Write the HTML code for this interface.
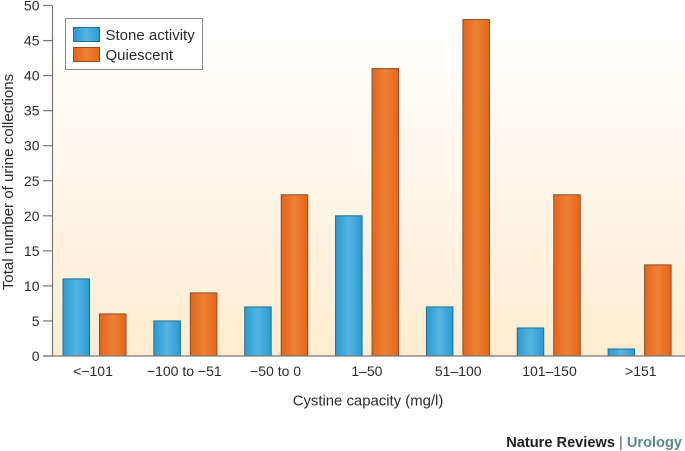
<!DOCTYPE html>
<html lang="en">
<head>
<meta charset="utf-8">
<title>Cystine capacity chart</title>
<style>
html,body{margin:0;padding:0;background:#fff;}
svg{display:block;font-family:"Liberation Sans",sans-serif;}
</style>
</head>
<body>
<svg id="chart" width="685" height="451" viewBox="0 0 685 451" xmlns="http://www.w3.org/2000/svg">
<defs>
<linearGradient id="bg" x1="0" y1="0" x2="0" y2="1">
<stop offset="0" stop-color="#ffffff"/>
<stop offset="0.06" stop-color="#ffffff"/>
<stop offset="1" stop-color="#fdecd0"/>
</linearGradient>
<linearGradient id="blue" x1="0" y1="0" x2="1" y2="0">
<stop offset="0" stop-color="#2a9ad2"/>
<stop offset="0.5" stop-color="#56b4e0"/>
<stop offset="1" stop-color="#2a9ad2"/>
</linearGradient>
<linearGradient id="orange" x1="0" y1="0" x2="1" y2="0">
<stop offset="0" stop-color="#e4651a"/>
<stop offset="0.5" stop-color="#ec8136"/>
<stop offset="1" stop-color="#e4651a"/>
</linearGradient>
</defs>
<rect x="53" y="6" width="632" height="350" fill="url(#bg)"/>
<g id="bars"></g>
<g id="axes"></g>
<g>
<rect x="65.5" y="18.5" width="137" height="51" fill="#fff" stroke="#8a8a8a" stroke-width="1"/>
<rect x="73.5" y="27.5" width="26" height="14" fill="url(#blue)" stroke="#1f6f93" stroke-width="1"/>
<text x="105.5" y="40" font-size="15" fill="#2b2b2b">Stone activity</text>
<rect x="73.5" y="47.5" width="26" height="14" fill="url(#orange)" stroke="#8f4d22" stroke-width="1"/>
<text x="105.5" y="60" font-size="15" fill="#2b2b2b">Quiescent</text>
</g>
<text x="368" y="405.5" font-size="14.9" text-anchor="middle" fill="#2b2b2b">Cystine capacity (mg/l)</text>
<text transform="translate(13,182) rotate(-90)" font-size="15.1" text-anchor="middle" fill="#2b2b2b">Total number of urine collections</text>
<text x="682" y="447" font-size="14.6" text-anchor="end" font-weight="bold" fill="#222">Nature Reviews <tspan font-weight="normal" fill="#555">|</tspan> <tspan fill="#5b8a8c">Urology</tspan></text>
</svg>
<script>
const categories = ['<\u2212101', '\u2212100 to \u221251', '\u221250 to 0', '1\u201350', '51\u2013100', '101\u2013150', '>151'];
const stoneActivity = [11, 5, 7, 20, 7, 4, 1];
const quiescent = [6, 9, 23, 41, 48, 23, 13];
const yTicks = [0, 5, 10, 15, 20, 25, 30, 35, 40, 45, 50];

const NS = 'http://www.w3.org/2000/svg';
const barsGroup = document.getElementById('bars');
const axesGroup = document.getElementById('axes');

function yScale(v) { return 356 - v * 7.01; }
function groupLeft(i) { return 63 + i * 90.85; }

function make(tag, attrs, parent, text) {
  const el = document.createElementNS(NS, tag);
  for (const k in attrs) el.setAttribute(k, attrs[k]);
  if (text !== undefined) el.textContent = text;
  parent.appendChild(el);
  return el;
}

categories.forEach(function (cat, i) {
  const left = groupLeft(i);
  const b = make('rect', {x: left, y: yScale(stoneActivity[i]), width: 26.5, height: 356 - yScale(stoneActivity[i]), fill: 'url(#blue)', stroke: '#1f6f93', 'stroke-width': 1}, barsGroup);
  
  
  const o = make('rect', {x: left + 36.5, y: yScale(quiescent[i]), width: 26.5, height: 356 - yScale(quiescent[i]), fill: 'url(#orange)', stroke: '#8f4d22', 'stroke-width': 1}, barsGroup);
  
  
  const t = make('text', {x: 93 + i * 91.3, y: 376, 'font-size': 14, 'text-anchor': 'middle', fill: '#2b2b2b'}, axesGroup, cat);
  
  
});

const yLine = make('line', {x1: 52.5, y1: yScale(50), x2: 52.5, y2: 356, stroke: '#777', 'stroke-width': 1.2}, axesGroup);


const xLine = make('line', {x1: 43, y1: 356, x2: 685, y2: 356, stroke: '#777', 'stroke-width': 1.2}, axesGroup);



yTicks.forEach(function (v) {
  const y = yScale(v);
  const tick = make('line', {x1: 43, y1: y, x2: 52.5, y2: y, stroke: '#777', 'stroke-width': 1.2}, axesGroup);
  
  
  const label = make('text', {x: 39.5, y: y + 5, 'font-size': 14, 'text-anchor': 'end', fill: '#2b2b2b'}, axesGroup, String(v));
  
  
});
</script>
</body>
</html>
